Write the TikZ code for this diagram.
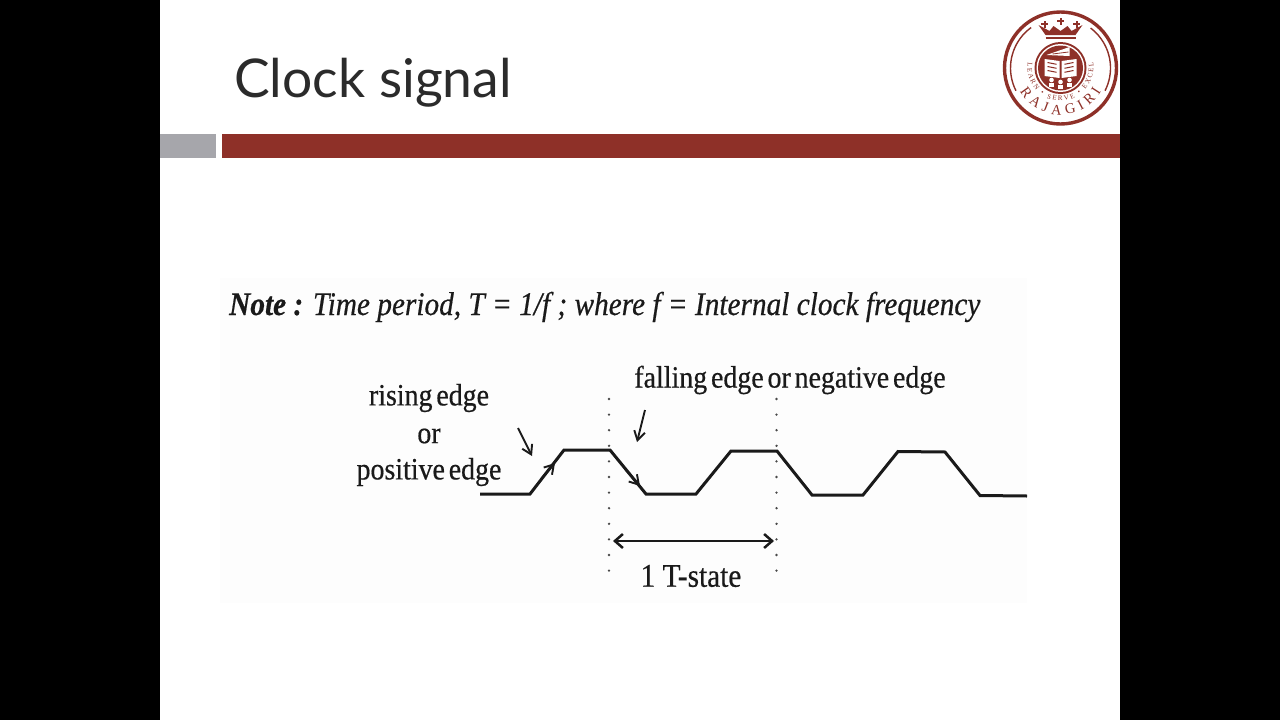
\documentclass[tikz,border=0pt]{standalone}
\usepackage{fontspec}
\setmainfont{Liberation Serif}
\newfontfamily\titlefont{Lato}
\newfontfamily\logofont{Liberation Serif}
\newfontfamily\notefont[FakeStretch=0.888,FakeBold=0.5]{Liberation Serif}
\newfontfamily\labelfont[FakeStretch=0.9,FakeBold=0.5,WordSpace=0.55]{Liberation Serif}
\usetikzlibrary{arrows.meta,decorations.text,calc}
\definecolor{barred}{HTML}{8E3028}
\definecolor{bargrey}{HTML}{A6A6AB}
\definecolor{titleink}{HTML}{2B2B2B}
\definecolor{ink}{HTML}{1A1A1A}
\definecolor{paper}{HTML}{FDFDFD}
\tikzset{
  wave/.style={draw=ink,line width=3pt,line join=miter},
  dotline/.style={draw=ink!80,line width=2.6pt,line cap=round,dash pattern=on 0pt off 15.6pt},
  pointer/.style={draw=ink,line width=1.9pt,-{Straight Barb[length=9pt,width=11pt]}},
  span/.style={draw=ink,line width=2.5pt,{Straight Barb[length=8pt,width=14pt]}-{Straight Barb[length=8pt,width=14pt]}},
  handtext/.style={text=ink,font=\labelfont\fontsize{31}{34}\selectfont,inner sep=0pt,align=center},
  ring/.style={draw=barred},
}
\begin{document}
\begin{tikzpicture}[x=1pt,y=-1pt]
\useasboundingbox (0,0) rectangle (1280,720);
\fill[black] (0,0) rectangle (1280,720);
\fill[white] (160,0) rectangle (1120,720);
\fill[bargrey] (160,134) rectangle (216,158);
\fill[barred] (222,134) rectangle (1120,158);
\node[anchor=base west,inner sep=0pt,text=titleink,font=\titlefont\fontsize{53.4}{60}\selectfont] (title) at (234,97) {Clock signal};
\fill[paper] (220,278) rectangle (1027,603);
% note
\node[anchor=base west,inner sep=0pt,text=ink,font=\notefont\fontsize{33}{36}\selectfont] (note) at (229,315)
  {\textbf{\textit{Note :}} \textit{Time period, T = 1/f ; where f = Internal clock frequency}};
% labels
\node[handtext] (rising) at (429,398) {rising edge};
\node[handtext] (or) at (429,436) {or};
\node[handtext] (positive) at (429,472) {positive edge};
\node[handtext] (falling) at (790,380) {falling edge or negative edge};
\node[handtext,font=\notefont\fontsize{33}{36}\selectfont] (tstate) at (691,576) {1 T-state};
% waveform
\draw[wave] (480,494) -- (530,494) -- (564,450) -- (610,450) -- (646,494) -- (696,494) -- (731,451) -- (777,451) -- (812,495) -- (863,495) -- (898,451.5) -- (945,452) -- (980,495.5) -- (1027,496);
% dotted guides
\coordinate (d1a) at (609,399); \coordinate (d1b) at (609,586);
\coordinate (d2a) at (776.5,399); \coordinate (d2b) at (776.5,582);
\draw[dotline] (d1a) -- (d1b);
\draw[dotline] (d2a) -- (d2b);
% small arrows
\coordinate (p1a) at (518,428); \coordinate (p1b) at (532,456);
\coordinate (p2a) at (645,410); \coordinate (p2b) at (637,442);
\draw[pointer] (p1a) -- (p1b);
\draw[pointer] (p2a) -- (p2b);
\coordinate (e1a) at (541,479); \coordinate (e1b) at (555,463);
\coordinate (e2a) at (625,469); \coordinate (e2b) at (640,486);
\draw[pointer] (e1a) -- (e1b);
\draw[pointer] (e2a) -- (e2b);
\coordinate (s1) at (613,541); \coordinate (s2) at (774,541);
\draw[span] (s1) -- (s2);
% logo
\begin{scope}[shift={(1060.5,68)}]
  \draw[ring,line width=3.4pt] (0,0) circle (56);
  \draw[ring,line width=1.4pt] plot[smooth,domain=153:234,samples=20] (\x:50);
  \draw[ring,line width=1.4pt] plot[smooth,domain=-53:27,samples=20] (\x:50);
  \fill[barred] (0,0) circle (26);
  \fill[white] (0,0) circle (24);
  \fill[barred] (0,0) circle (22.5);
  % roof stripes
  \fill[white] (-14,-13) -- (9,-21) -- (9,-12) -- cycle;
  \draw[barred,line width=.8pt] (-8,-14) -- (8,-16);
  % book
  \fill[white] (-16,-9) -- (-1,-7) -- (-1,10) -- (-16,8) -- cycle;
  \fill[white] (16,-9) -- (1,-7) -- (1,10) -- (16,8) -- cycle;
  \foreach \yy in {-4,0,4}{
    \draw[barred,line width=1pt] (-13,\yy-1.5) -- (-4,\yy+.3);
    \draw[barred,line width=1pt] (13,\yy-1.5) -- (4,\yy+.3);
  }
  % people
  \foreach \xx/\yy in {-9/12,0/14,9/12}{
    \fill[white] (\xx,\yy) circle (2.3);
    \fill[white] (\xx-2.6,\yy+3) rectangle (\xx+2.6,\yy+7);
  }
  % crown
  \fill[barred] (-15,-33) -- (-22,-43) -- (-11,-37) -- (-7,-42) -- (0,-37) -- (7,-42) -- (11,-37) -- (22,-43) -- (15,-33) -- cycle;
  \draw[barred,line width=2pt] (-15,-30) -- (15,-30);
  \foreach \xx/\yy in {-16/-44,0/-47,16/-44}{
    \fill[barred] (\xx-3.5,\yy-1) rectangle (\xx+3.5,\yy+1);
    \fill[barred] (\xx-1,\yy-3.5) rectangle (\xx+1,\yy+3.5);
  }
  % lettering on arcs
  \path[postaction={decorate,decoration={text along path,text align={fit to path},
      text={|\logofont\fontsize{14.5}{15}\selectfont\color{barred}|RAJAGIRI}}}]
    (-40.7,23.5) .. controls (-22.6,54.8) and (22.6,54.8) .. (40.7,23.5);
  \path[postaction={decorate,decoration={text along path,text align={fit to path},
      text={|\logofont\fontsize{7}{8}\selectfont\color{barred}|LEARN • SERVE • EXCEL}}}]
    (-32.5,-5.7) .. controls (-36,14.4) and (-20.4,33) .. (0,33) .. controls (20.4,33) and (36,14.4) .. (32.5,-5.7);
\end{scope}
\end{tikzpicture}
\end{document}
